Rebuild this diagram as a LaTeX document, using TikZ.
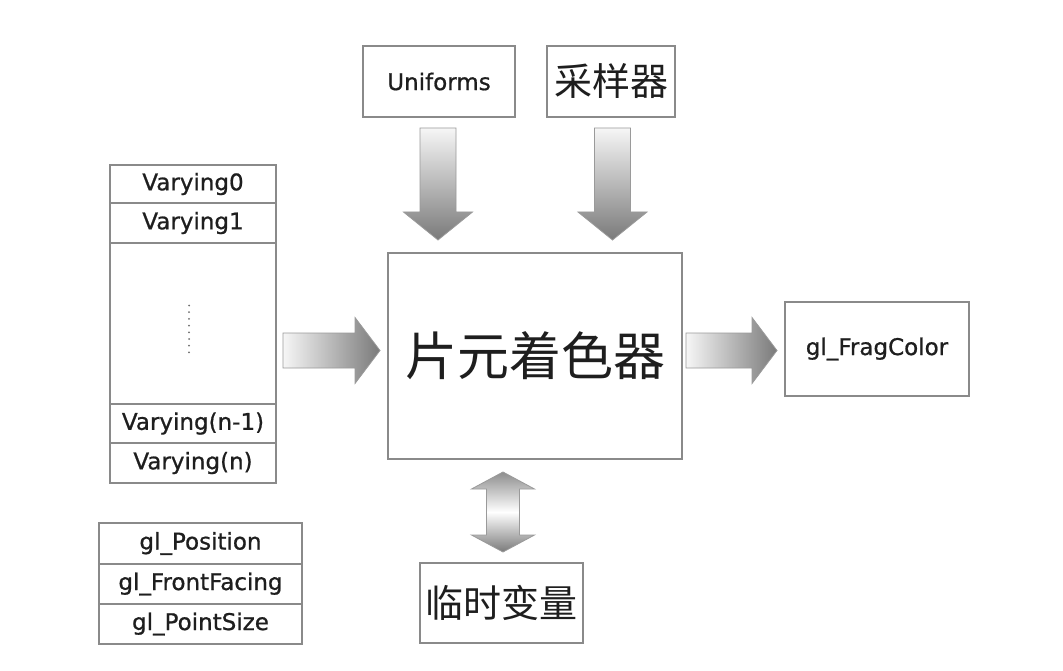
\documentclass[tikz,border=0pt]{standalone}
\usepackage{fontspec}
\setmainfont[BoldFont={DejaVu Sans}, BoldFeatures={FakeBold=0.8}]{DejaVu Sans}
\newfontfamily\cjk{Noto Sans CJK SC}
\usetikzlibrary{calc}
\definecolor{boxedge}{HTML}{8A8A8A}
\definecolor{arrlight}{HTML}{F6F6F6}
\definecolor{arrdark}{HTML}{7A7A7A}
\definecolor{arredge}{HTML}{9A9A9A}
\definecolor{txt}{HTML}{1E1E1E}
\pgfdeclareverticalshading{dblshade}{100bp}{
  color(0bp)=(arrdark); color(25bp)=(arrdark); color(50bp)=(white); color(75bp)=(arrdark!85); color(100bp)=(arrdark!85)}
\tikzset{
  box/.style={draw=boxedge, line width=1.1pt, inner sep=0pt, text=txt, font=\bfseries\fontsize{23}{26}\selectfont},
  cjkbox/.style={box, font=\cjk\fontsize{38}{42}\selectfont},
  blockarrow/.style={draw=arredge, line width=0.8pt},
}
\newcommand\arrowdown[2]{\shadedraw[blockarrow, top color=arrlight, bottom color=arrdark] let \p1=(#1), \p2=(#2) in
  (\x1-18pt,\y1) -- (\x1+18pt,\y1) -- (\x1+18pt,\y2+28pt) -- (\x1+34.5pt,\y2+28pt) -- (\x2,\y2) -- (\x1-34.5pt,\y2+28pt) -- (\x1-18pt,\y2+28pt) -- cycle;}
\newcommand\arrowright[2]{\shadedraw[blockarrow, left color=arrlight, right color=arrdark] let \p1=(#1), \p2=(#2) in
  (\x1,\y1-17.5pt) -- (\x2-25pt,\y1-17.5pt) -- (\x2-25pt,\y1-33pt) -- (\x2,\y2) -- (\x2-25pt,\y1+33pt) -- (\x2-25pt,\y1+17.5pt) -- (\x1,\y1+17.5pt) -- cycle;}
\newcommand\arrowboth[2]{\shadedraw[blockarrow, shading=dblshade] let \p1=(#1), \p2=(#2) in
  (\x1,\y1) -- (\x1+31.5pt,\y1-17pt) -- (\x1+16.5pt,\y1-17pt) -- (\x1+16.5pt,\y2+17pt) -- (\x1+31.5pt,\y2+17pt) -- (\x2,\y2) -- (\x1-31.5pt,\y2+17pt) -- (\x1-16.5pt,\y2+17pt) -- (\x1-16.5pt,\y1-17pt) -- (\x1-31.5pt,\y1-17pt) -- cycle;}
\begin{document}
\begin{tikzpicture}[x=1pt,y=-1pt]
\useasboundingbox[fill=white] (0,0) rectangle (1063,671);
% top boxes
\node[box, minimum width=152pt, minimum height=71pt] (uni) at (439,81.5) {Uniforms};
\node[cjkbox, minimum width=128pt, minimum height=71pt] (samp) at (611,81.5) {\raisebox{-3pt}{采样器}};
% main shader
\node[box, minimum width=294pt, minimum height=206pt, font=\cjk\fontsize{52}{56}\selectfont] (fs) at (535,356) {\raisebox{-7pt}{片元着色器}};
% output
\node[box, minimum width=184pt, minimum height=94pt] (frag) at (877,349) {gl\_FragColor};
% temp variables
\node[cjkbox, minimum width=163pt, minimum height=80pt] (tmp) at (501.5,603) {\raisebox{-5pt}{临时变量}};
% varyings
\node[box, minimum width=166pt, minimum height=38pt] (v0) at (193,184) {Varying0};
\node[box, minimum width=166pt, minimum height=40pt] (v1) at (193,223) {Varying1};
\node[box, minimum width=166pt, minimum height=161pt] (vmid) at (193,323.5) {};
\node[box, minimum width=166pt, minimum height=39pt] (vn1) at (193,423.5) {Varying(n-1)};
\node[box, minimum width=166pt, minimum height=40pt] (vn) at (193,463) {Varying(n)};
\foreach \k in {0,...,7} \fill[boxedge!80!black] (189,305.5+\k*6.7) circle (1pt);
% built-ins
\node[box, minimum width=203pt, minimum height=41pt] (gp) at (200.5,543.5) {gl\_Position};
\node[box, minimum width=203pt, minimum height=40pt] (gf) at (200.5,584) {gl\_FrontFacing};
\node[box, minimum width=203pt, minimum height=40pt] (gs) at (200.5,624) {gl\_PointSize};
% arrow end points
\coordinate (ua0) at (438,128); \coordinate (ua1) at (438,240);
\coordinate (sa0) at (612.5,128); \coordinate (sa1) at (612.5,240);
\coordinate (la0) at (283,350.5); \coordinate (la1) at (380,350.5);
\coordinate (ra0) at (686,350.5); \coordinate (ra1) at (777,350.5);
\coordinate (da0) at (503,472); \coordinate (da1) at (503,552);
\arrowdown{ua0}{ua1}
\arrowdown{sa0}{sa1}
\arrowright{la0}{la1}
\arrowright{ra0}{ra1}
\arrowboth{da0}{da1}
\end{tikzpicture}
\end{document}
